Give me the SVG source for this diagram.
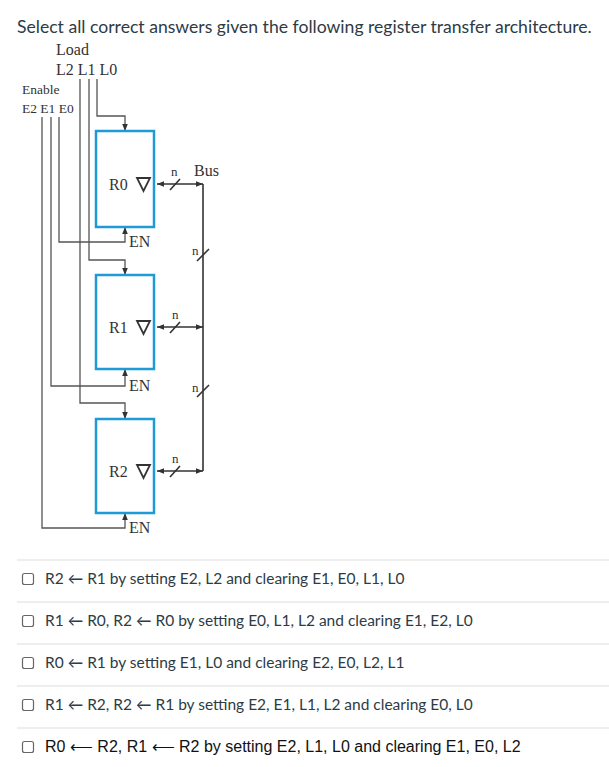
<svg xmlns="http://www.w3.org/2000/svg" width="609" height="767" viewBox="0 0 609 767">
<defs>
<marker id="ah" viewBox="0 0 10 10" refX="10" refY="5" markerWidth="7" markerHeight="7" orient="auto-start-reverse" markerUnits="userSpaceOnUse"><path d="M0,1 L10,5 L0,9 Z" fill="#333"/></marker>
</defs>
<style>
.w{fill:none;stroke:#555;stroke-width:1.3}
.b{fill:none;stroke:#333;stroke-width:1.6}
.reg{fill:#fff;stroke:#1e9ad6;stroke-width:2.5}
.t{font-family:"Liberation Serif",serif;font-size:16px;fill:#333}
.s{font-family:"Liberation Serif",serif;font-size:13.5px;fill:#333}
.n{font-family:"Liberation Serif",serif;font-size:13px;fill:#333}
.q{font-family:Lato,"Liberation Sans",sans-serif;font-size:15.5px;fill:#2d3b45}
.sep{stroke:#ddd;stroke-width:1}
.cb{fill:#fff;stroke:#666;stroke-width:1.2}
</style>
<rect width="609" height="767" fill="#fff"/>
<text x="17" y="33" style="font-family:Lato,'Liberation Sans',sans-serif;font-size:17.6px;fill:#2d3b45">Select all correct answers given the following register transfer architecture.</text>
<g id="labels">
<text x="56" y="55" class="t">Load</text>
<text x="56" y="75" class="t">L2 L1 L0</text>
<text x="22" y="94" class="s">Enable</text>
<text x="22" y="113" class="s">E2 E1 E0</text>
</g>
<g id="connectors">
<path class="w" d="M97,79 V116 H125 V131" marker-end="url(#ah)"/>
<path class="w" d="M89,79 V260 H125 V275" marker-end="url(#ah)"/>
<path class="w" d="M80,79 V403 H125 V419" marker-end="url(#ah)"/>
<path class="w" d="M59,117 V242 H125 V227" marker-end="url(#ah)"/>
<path class="w" d="M51,117 V386 H125 V369" marker-end="url(#ah)"/>
<path class="w" d="M42,117 V528 H125 V513" marker-end="url(#ah)"/>
<path class="b" d="M203,184 V471"/>
<path class="b" d="M157,184 H203" marker-start="url(#ah)" marker-end="url(#ah)"/>
<path class="b" d="M157,327 H203" marker-start="url(#ah)" marker-end="url(#ah)"/>
<path class="b" d="M157,471 H203" marker-start="url(#ah)" marker-end="url(#ah)"/>
<path class="b" d="M170,190 L180,179 M170,333 L180,322 M170,477 L180,466 M197,261 L209,249 M197,397 L209,385"/>
<text x="171" y="176" class="n">n</text>
<text x="194" y="176" class="t">Bus</text>
<text x="172" y="319" class="n">n</text>
<text x="172" y="463" class="n">n</text>
<text x="192" y="255" class="n">n</text>
<text x="192" y="392" class="n">n</text>
</g>
<g id="R0"><rect x="96" y="131" width="58" height="96" class="reg"/><text x="109" y="190" class="t">R0</text><path d="M137,178 H150 L143.5,191 Z" fill="none" stroke="#333" stroke-width="1.8"/><text x="129" y="247" class="t">EN</text></g>
<g id="R1"><rect x="96" y="275" width="58" height="94" class="reg"/><text x="109" y="333" class="t">R1</text><path d="M137,321 H150 L143.5,334 Z" fill="none" stroke="#333" stroke-width="1.8"/><text x="129" y="391" class="t">EN</text></g>
<g id="R2"><rect x="96" y="419" width="58" height="94" class="reg"/><text x="109" y="477" class="t">R2</text><path d="M137,465 H150 L143.5,478 Z" fill="none" stroke="#333" stroke-width="1.8"/><text x="129" y="533" class="t">EN</text></g>
<g id="options">
<line x1="17" y1="560" x2="609" y2="560" class="sep"/>
<line x1="17" y1="602" x2="609" y2="602" class="sep"/>
<line x1="17" y1="644" x2="609" y2="644" class="sep"/>
<line x1="17" y1="686" x2="609" y2="686" class="sep"/>
<line x1="17" y1="728" x2="609" y2="728" class="sep"/>
<rect x="22.5" y="573.5" width="11" height="11" rx="2" class="cb"/>
<rect x="22.5" y="615.5" width="11" height="11" rx="2" class="cb"/>
<rect x="22.5" y="657.5" width="11" height="11" rx="2" class="cb"/>
<rect x="22.5" y="699.5" width="11" height="11" rx="2" class="cb"/>
<rect x="22.5" y="741.5" width="11" height="11" rx="2" class="cb"/>
<text x="45" y="584" class="q">R2 ← R1 by setting E2, L2 and clearing E1, E0, L1, L0</text>
<text x="45" y="626" class="q">R1 ← R0, R2 ← R0 by setting E0, L1, L2 and clearing E1, E2, L0</text>
<text x="45" y="668" class="q">R0 ← R1 by setting E1, L0 and clearing E2, E0, L2, L1</text>
<text x="45" y="710" class="q">R1 ← R2, R2 ← R1 by setting E2, E1, L1, L2 and clearing E0, L0</text>
<text x="45" y="752" style="font-family:'Liberation Sans',sans-serif;font-size:16px;fill:#111">R0 ⟵ R2, R1 ⟵ R2 by setting E2, L1, L0 and clearing E1, E0, L2</text>
</g>
</svg>
